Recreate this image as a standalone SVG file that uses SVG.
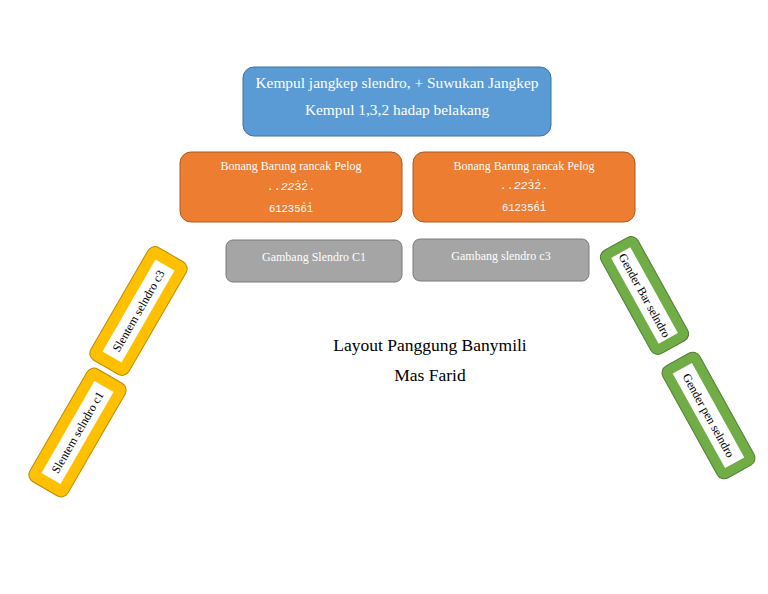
<svg xmlns="http://www.w3.org/2000/svg" width="768" height="594" viewBox="0 0 768 594">
<style>
.serif{font-family:"Liberation Serif","Times New Roman",serif}
.mono{font-family:"Liberation Mono","DejaVu Sans Mono",monospace}
.wt{fill:#ffffff}
.blue{fill:#5b9bd5;stroke:#41719c;stroke-width:1}
.orange{fill:#ed7d31;stroke:#ae5a21;stroke-width:1}
.gray{fill:#a5a5a5;stroke:#7b7b7b;stroke-width:1}
.yellow{fill:#ffc000;stroke:#bc8c00;stroke-width:1}
.green{fill:#70ad47;stroke:#507e32;stroke-width:1}
.inner{fill:#ffffff}
.dot{fill:#ffffff}
</style>
<rect width="768" height="594" fill="#ffffff"/>
<g id="connectors"></g>
<g id="kempul">
<rect class="blue" x="243" y="67" width="308" height="69" rx="11"/>
<text class="serif wt" x="397" y="88" font-size="15.4" text-anchor="middle" font-family="Liberation Serif, serif">Kempul jangkep slendro, + Suwukan Jangkep</text>
<text class="serif wt" x="397" y="115" font-size="15.4" text-anchor="middle" font-family="Liberation Serif, serif">Kempul 1,3,2 hadap belakang</text>
</g>
<g id="bonang1">
<rect class="orange" x="180" y="152" width="222" height="70" rx="11"/>
<text class="serif wt" x="291" y="170" font-size="12" text-anchor="middle" font-family="Liberation Serif, serif">Bonang Barung rancak Pelog</text>
<text class="mono wt" x="291" y="190" font-size="11.5" text-anchor="middle" font-family="Liberation Mono, monospace">..<tspan font-style="italic">22</tspan>32.</text>
<circle class="dot" cx="298" cy="181" r="0.8"/><circle class="dot" cx="305" cy="181" r="0.8"/>
<text class="mono wt" x="291" y="212" font-size="10.5" text-anchor="middle" font-family="Liberation Mono, monospace">6123561</text>
<circle class="dot" cx="304" cy="203" r="0.8"/><circle class="dot" cx="310" cy="203" r="0.8"/>
</g>
<g id="bonang2">
<rect class="orange" x="413" y="152" width="222" height="70" rx="11"/>
<text class="serif wt" x="524" y="170" font-size="12" text-anchor="middle" font-family="Liberation Serif, serif">Bonang Barung rancak Pelog</text>
<text class="mono wt" x="524" y="189" font-size="11.5" text-anchor="middle" font-family="Liberation Mono, monospace">..<tspan font-style="italic">22</tspan>32.</text>
<circle class="dot" cx="531" cy="180" r="0.8"/><circle class="dot" cx="538" cy="180" r="0.8"/>
<text class="mono wt" x="524" y="211" font-size="10.5" text-anchor="middle" font-family="Liberation Mono, monospace">6123561</text>
<circle class="dot" cx="537" cy="202" r="0.8"/><circle class="dot" cx="543" cy="202" r="0.8"/>
</g>
<g id="gambang1">
<rect class="gray" x="226" y="240" width="176" height="42" rx="7"/>
<text class="serif wt" x="314" y="261" font-size="12" text-anchor="middle" font-family="Liberation Serif, serif">Gambang Slendro C1</text>
</g>
<g id="gambang2">
<rect class="gray" x="413" y="239" width="176" height="42" rx="7"/>
<text class="serif wt" x="501" y="260" font-size="12" text-anchor="middle" font-family="Liberation Serif, serif">Gambang slendro c3</text>
</g>
<g id="slentem-c3" transform="translate(138.5,311) rotate(-60)">
<rect class="yellow" x="-65" y="-22" width="130" height="44" rx="8"/>
<rect class="inner" x="-53" y="-11" width="106" height="22"/>
<text class="serif" x="0" y="4" font-size="12" text-anchor="middle" fill="#000" font-family="Liberation Serif, serif">Slentem selndro c3</text>
</g>
<g id="slentem-c1" transform="translate(77.5,432.5) rotate(-60)">
<rect class="yellow" x="-65" y="-22" width="130" height="44" rx="8"/>
<rect class="inner" x="-53" y="-11" width="106" height="22"/>
<text class="serif" x="0" y="4" font-size="12" text-anchor="middle" fill="#000" font-family="Liberation Serif, serif">Slentem selndro c1</text>
</g>
<g id="gender-bar" transform="translate(644.5,295.5) rotate(61)">
<rect class="green" x="-59" y="-21" width="118" height="42" rx="8"/>
<rect class="inner" x="-49" y="-11" width="98" height="22"/>
<text class="serif" x="0" y="4" font-size="12" text-anchor="middle" fill="#000" font-family="Liberation Serif, serif">Gender Bar selndro</text>
</g>
<g id="gender-pen" transform="translate(708.5,415.5) rotate(61)">
<rect class="green" x="-64" y="-21" width="128" height="42" rx="8"/>
<rect class="inner" x="-54" y="-11" width="108" height="22"/>
<text class="serif" x="0" y="4" font-size="12" text-anchor="middle" fill="#000" font-family="Liberation Serif, serif">Gender pen selndro</text>
</g>
<g id="title">
<text class="serif" x="430" y="351" font-size="17.5" text-anchor="middle" fill="#000" font-family="Liberation Serif, serif">Layout Panggung Banymili</text>
<text class="serif" x="430" y="381" font-size="17.5" text-anchor="middle" fill="#000" font-family="Liberation Serif, serif">Mas Farid</text>
</g>
</svg>
